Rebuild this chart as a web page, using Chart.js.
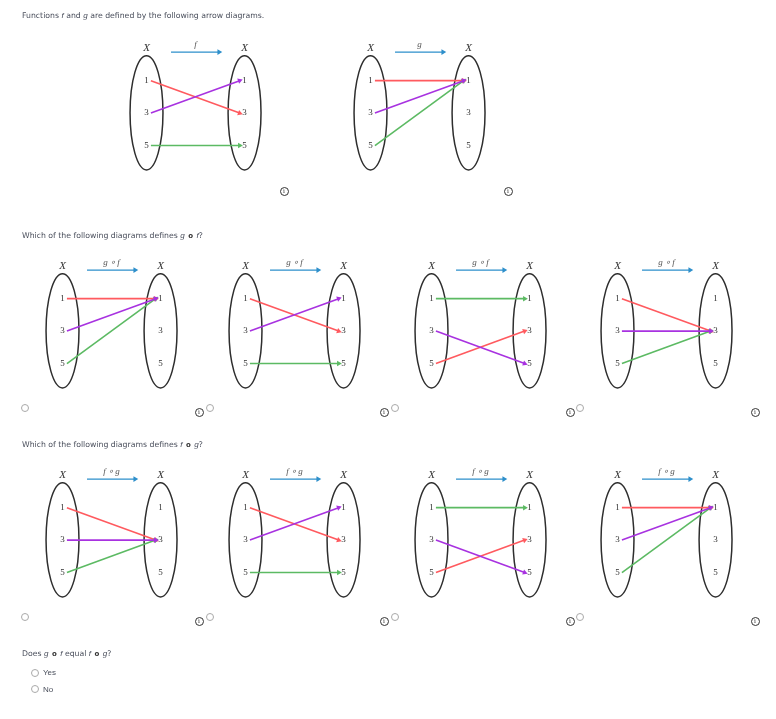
<!DOCTYPE html>
<html>
<head>
<meta charset="utf-8">
<script src="https://cdn.jsdelivr.net/npm/chart.js@4/dist/chart.umd.min.js"></script>
<style>
html, body { margin: 0; padding: 0; background: #fff; }
#page { position: relative; width: 776px; height: 719px; overflow: hidden; filter: blur(0.45px);
    font-family: "DejaVu Sans", sans-serif; font-size: 7.75px; color: #4a4f5c; }
#page canvas { position: absolute; }
.txt { position: absolute; white-space: nowrap; line-height: 10px; }
.txt i { font-family: "Liberation Sans", sans-serif; font-size: 8px; }
.txt b { font-size: 7px; color: #333; margin: 0 1px; }
.txt.plain { font-family: "Liberation Sans", sans-serif; font-size: 8px; }
.radio { position: absolute; width: 6px; height: 6px; border: 1px solid #a9a9a9; border-radius: 50%; background: #fff; }
.info { position: absolute; width: 7px; height: 7px; border: 1px solid #333; border-radius: 50%; font: 7px/7px "Liberation Serif", serif;
    text-align: center; color: #333; }
</style>
</head>
<body>
<div id="page"></div>
<script>
//Data
const domain = [1, 3, 5];
const fValues = [3, 1, 5];
const gValues = [1, 1, 1];

const gofChoices = [[1, 1, 1], [3, 1, 5], [1, 5, 3], [3, 3, 3]];
const fogChoices = [[3, 3, 3], [3, 1, 5], [1, 5, 3], [1, 1, 1]];

const setName = 'X';
const gofName = 'g\u2009\u2218\u2009f';
const fogName = 'f\u2009\u2218\u2009g';

//Styles
const RED = '#ff5a5f';
const PURPLE = '#a832e0';
const GREEN = '#5cba63';
const BLUE = '#2d8fcb';
const INK = '#2e2e2e';
const normalColors = [RED, PURPLE, GREEN];
const swappedColors = [GREEN, PURPLE, RED]; // third choice in each row

//Layout, canvas is 150x146 and one x unit is the gap between the ovals
const CHOICE_X = [62, 245, 431, 617];
const W = 150, H = 146;

const page = document.getElementById('page');

function addText(x, y, html, cls) {
    let el = document.createElement('div');
    el.className = 'txt' + (cls ? ' ' + cls : '');
    el.style.left = x + 'px';
    el.style.top = y + 'px';
    el.innerHTML = html;
    page.appendChild(el);
}
function addRadio(x, y) {
    let el = document.createElement('div');
    el.className = 'radio';
    el.style.left = (x - 4) + 'px';
    el.style.top = (y - 4) + 'px';
    page.appendChild(el);
}
function addInfo(x, y) {
    let el = document.createElement('div');
    el.className = 'info';
    el.style.left = (x - 4.5) + 'px';
    el.style.top = (y - 4.5) + 'px';
    el.textContent = 'i';
    page.appendChild(el);
}

// triangle point turned along the line, so it works as an arrow head
function headRotation(ctx) {
    let pts = ctx.dataset.data, sc = ctx.chart.scales;
    let dx = sc.x.getPixelForValue(pts[1].x) - sc.x.getPixelForValue(pts[0].x);
    let dy = sc.y.getPixelForValue(pts[1].y) - sc.y.getPixelForValue(pts[0].y);
    return Math.atan2(dx, -dy) * 180 / Math.PI;
}

function arrowDataset(x0, y0, x1, y1, color, order, width) {
    return {
        data: [{x: x0, y: y0}, {x: x1, y: y1}],
        borderColor: color,
        backgroundColor: color,
        borderWidth: width,
        showLine: true,
        order: order,
        pointStyle: 'triangle',
        pointBorderWidth: 0,
        pointRadius: [0, 3.2],
        pointRotation: headRotation
    };
}

const ovalPlugin = {
    id: 'ovals',
    beforeDatasetsDraw(chart, args, opts) {
        let c = chart.ctx, sx = chart.scales.x, sy = chart.scales.y;
        let ry = (sy.getPixelForValue(6.5) - sy.getPixelForValue(-0.54)) / 2;
        let yc = sy.getPixelForValue(2.98);
        let rx = sx.getPixelForValue(0.168) - sx.getPixelForValue(0);
        c.save();
        c.strokeStyle = INK;
        c.lineWidth = 1.5;
        [0, 1].forEach(col => {
            c.beginPath();
            c.ellipse(sx.getPixelForValue(col), yc, rx, ry, 0, 0, Math.PI * 2);
            c.stroke();
        });
        c.fillStyle = '#333';
        c.textAlign = 'center';
        c.textBaseline = 'middle';
        c.font = '9px "Liberation Serif", serif';
        [0, 1].forEach(col => {
            domain.forEach(v => c.fillText(String(v), sx.getPixelForValue(col), sy.getPixelForValue(v)));
        });
        c.font = 'italic 11px "Liberation Serif", serif';
        [0, 1].forEach(col => c.fillText(setName, sx.getPixelForValue(col), sy.getPixelForValue(-1.03)));
        c.font = 'italic 9px "Liberation Serif", serif';
        c.fillStyle = '#555';
        c.fillText(opts.name, sx.getPixelForValue(0.5), sy.getPixelForValue(-1.2));
        c.restore();
    }
};

function addDiagram(cx, row1, name, targets, colors) {
    let canvas = document.createElement('canvas');
    canvas.width = W;
    canvas.height = H;
    canvas.style.left = (cx - 24.5) + 'px';
    canvas.style.top = Math.round(row1 - 48.7) + 'px';
    canvas.style.width = W + 'px';
    canvas.style.height = H + 'px';
    page.appendChild(canvas);

    let datasets = domain.map((v, i) =>
        arrowDataset(0.045, v, 0.95, targets[i], colors[i], [2, 0, 1][i], 1.6));
    datasets.push(arrowDataset(0.25, -0.76, 0.74, -0.76, BLUE, 3, 1.4));

    new Chart(canvas.getContext('2d'), {
        type: 'scatter',
        data: {datasets: datasets},
        plugins: [ovalPlugin],
        options: {
            responsive: false,
            animation: false,
            layout: {padding: 0, autoPadding: false},
            scales: {
                x: {type: 'linear', min: -0.25, max: 1.28, display: false},
                y: {type: 'linear', min: -2, max: 7, reverse: true, display: false}
            },
            plugins: {legend: {display: false}, tooltip: {enabled: false}, ovals: {name: name}}
        }
    });
}

const F = '<i>f</i>', G = '<i>g</i>', RING = '<b>o</b>';

addText(22, 11, 'Functions ' + F + ' and ' + G + ' are defined by the following arrow diagrams.');
addDiagram(146.5, 81, 'f', fValues, normalColors);
addDiagram(370, 81, 'g', gValues, normalColors);
addInfo(284, 191);
addInfo(508, 191);

addText(22, 231, 'Which of the following diagrams defines ' + G + ' ' + RING + ' ' + F + '?');
addText(22, 440, 'Which of the following diagrams defines ' + F + ' ' + RING + ' ' + G + '?');
[[gofChoices, gofName, 298.5, 408], [fogChoices, fogName, 508, 617]].forEach(row => {
    row[0].forEach((targets, i) => {
        addDiagram(CHOICE_X[i], row[2], row[1], targets, i === 2 ? swappedColors : normalColors);
        addRadio([25, 210, 395, 580][i], row[3]);
        addInfo([199, 384, 570, 755][i], row[3] + 4);
    });
});

addText(22, 649, 'Does ' + G + ' ' + RING + ' ' + F + ' equal ' + F + ' ' + RING + ' ' + G + '?');
addRadio(35, 673);
addText(43, 668, 'Yes', 'plain');
addRadio(35, 689);
addText(43, 685, 'No', 'plain');
</script>
</body>
</html>
